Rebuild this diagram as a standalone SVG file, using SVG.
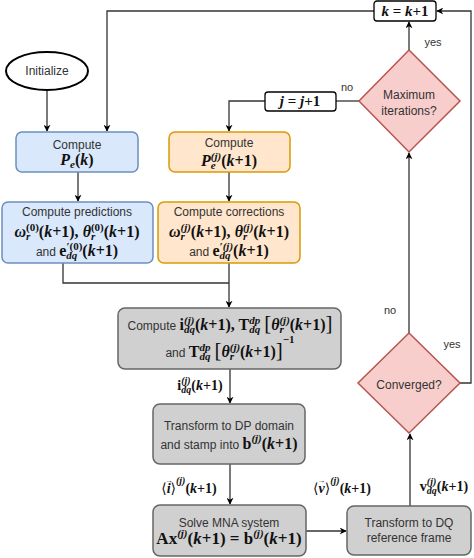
<svg xmlns="http://www.w3.org/2000/svg" width="474" height="558" viewBox="0 0 474 558">
<defs>
<marker id="ah" viewBox="0 0 10 10" refX="9" refY="5" markerWidth="7" markerHeight="7" orient="auto" markerUnits="userSpaceOnUse">
<path d="M0,0 L10,5 L0,10 L3,5 Z" fill="#000"/>
</marker>
<style>
.sans{font-family:"Liberation Sans",Arial,Helvetica,sans-serif;font-size:12px;font-weight:normal;font-style:normal;fill:#333}
.lbl{font-family:"Liberation Sans",Arial,Helvetica,sans-serif;font-size:11px;fill:#333}
.math{font-family:"Liberation Serif","Times New Roman","DejaVu Serif",serif;font-size:16px;font-weight:bold;fill:#111}
.it{font-style:italic}
.sc{font-size:11px}
.br{font-size:21px;font-weight:normal}
.blue{fill:#dae8fc;stroke:#6c8ebf;stroke-width:1.5}
.orange{fill:#ffe6cc;stroke:#d79b00;stroke-width:1.5}
.gray{fill:#d0d0d0;stroke:#666;stroke-width:1.5}
.red{fill:#f8cecc;stroke:#b85450;stroke-width:1.5}
.white{fill:#fff;stroke:#000;stroke-width:1.3}
.edge{fill:none;stroke:#333;stroke-width:1.3}
.arr{marker-end:url(#ah)}
</style>
</defs>

<g id="connectors">
<path class="edge arr" d="M47,90 L47,131"/>
<path class="edge arr" d="M374,11 L107,11 L107,131"/>
<path class="edge arr" d="M460,383 L471,383 L471,11 L437,11"/>
<path class="edge arr" d="M409,50 L409,22"/>
<path class="edge" d="M359,101 L336,101"/>
<path class="edge arr" d="M265,101 L229,101 L229,131"/>
<path class="edge arr" d="M78,172 L78,201"/>
<path class="edge arr" d="M229,172 L229,201"/>
<path class="edge" d="M63,263 L63,283 L229,283"/>
<path class="edge arr" d="M229,263 L229,307"/>
<path class="edge arr" d="M230,369 L230,403"/>
<path class="edge arr" d="M230,464 L230,504"/>
<path class="edge arr" d="M306,531 L346,531"/>
<path class="edge arr" d="M410,506 L410,434"/>
<path class="edge arr" d="M409,333 L409,153"/>
<text class="lbl" x="433" y="46" text-anchor="middle">yes</text>
<text class="lbl" x="347" y="91" text-anchor="middle">no</text>
<text class="lbl" x="452" y="348" text-anchor="middle">yes</text>
<text class="lbl" x="390" y="314" text-anchor="middle">no</text>
<text class="math" x="200" y="390" text-anchor="middle" style="font-size:14px">i<tspan class="sc it" style="font-size:10px" dy="-6">(j)</tspan><tspan class="sc it" style="font-size:10px" dx="-9.4" dy="9">dq</tspan><tspan dy="-3">(<tspan class="it">k</tspan>+1)</tspan></text>
<text class="math" x="189" y="493" text-anchor="middle" style="font-size:14px"><tspan style="font-weight:normal">⟨</tspan><tspan class="it">i</tspan><tspan style="font-size:8px" dx="-5.9" dy="-10">→</tspan><tspan style="font-weight:normal" dx="-2.2" dy="10">⟩</tspan><tspan class="it" style="font-size:10px" dy="-9">(j)</tspan><tspan dy="9">(<tspan class="it">k</tspan>+1)</tspan></text>
<text class="math" x="342" y="493" text-anchor="middle" style="font-size:14px"><tspan style="font-weight:normal">⟨</tspan><tspan class="it">v</tspan><tspan style="font-size:8px" dx="-7.5" dy="-10">→</tspan><tspan style="font-weight:normal" dx="-0.5" dy="10">⟩</tspan><tspan class="it" style="font-size:10px" dy="-9">(j)</tspan><tspan dy="9">(<tspan class="it">k</tspan>+1)</tspan></text>
<text class="math" x="444" y="491" text-anchor="middle" style="font-size:14px">v<tspan class="sc it" style="font-size:10px" dy="-6">(j)</tspan><tspan class="sc it" style="font-size:10px" dx="-9.4" dy="9">dq</tspan><tspan dy="-3">(<tspan class="it">k</tspan>+1)</tspan></text>
</g>

<g id="initialize">
<ellipse class="white" cx="47" cy="71" rx="41" ry="19" style="stroke-width:2"/>
<text class="sans" x="47" y="75" text-anchor="middle">Initialize</text>
</g>

<g id="k-increment">
<rect class="white" x="374" y="1" width="62" height="20" rx="3"/>
<text class="math it" x="405" y="16" text-anchor="middle" style="font-size:15px">k <tspan style="font-style:normal">=</tspan> k<tspan style="font-style:normal">+1</tspan></text>
</g>

<g id="j-increment">
<rect class="white" x="265" y="92" width="71" height="19" rx="3"/>
<text class="math it" x="300" y="106" text-anchor="middle" style="font-size:15px">j <tspan style="font-style:normal">=</tspan> j<tspan style="font-style:normal">+1</tspan></text>
</g>

<g id="max-iterations">
<polygon class="red" points="409,50 460,101 409,152 359,101"/>
<text class="sans" x="409" y="99" text-anchor="middle">Maximum</text>
<text class="sans" x="409" y="115" text-anchor="middle">iterations?</text>
</g>

<g id="compute-pe-k">
<rect class="blue" x="16" y="132" width="122" height="40" rx="6"/>
<text class="sans" x="77" y="149" text-anchor="middle">Compute</text>
<text class="math" x="77" y="165" text-anchor="middle"><tspan class="it">P</tspan><tspan class="sc it" dy="3">e</tspan><tspan dy="-3">(<tspan class="it">k</tspan>)</tspan></text>
</g>

<g id="compute-pe-j">
<rect class="orange" x="169" y="132" width="121" height="40" rx="6"/>
<text class="sans" x="229" y="147" text-anchor="middle">Compute</text>
<text class="math" x="229" y="166" text-anchor="middle"><tspan class="it">P</tspan><tspan class="sc it" dy="-6">(j)</tspan><tspan class="sc it" dx="-10.4" dy="9">e</tspan><tspan dx="5.5" dy="-3">(<tspan class="it">k</tspan>+1)</tspan></text>
</g>

<g id="compute-predictions">
<rect class="blue" x="2" y="202" width="151" height="61" rx="6"/>
<text class="sans" x="77" y="216" text-anchor="middle">Compute predictions</text>
<text class="math" x="77" y="237" text-anchor="middle"><tspan class="it">ω</tspan><tspan class="sc" dy="-6">(0)</tspan><tspan class="sc it" dx="-12.8" dy="9">r</tspan><tspan dx="8.5" dy="-3">(<tspan class="it">k</tspan>+1), </tspan><tspan class="it">θ</tspan><tspan class="sc" dy="-6">(0)</tspan><tspan class="sc it" dx="-12.8" dy="9">r</tspan><tspan dx="8.5" dy="-3">(<tspan class="it">k</tspan>+1)</tspan></text>
<text class="math" x="77" y="256" text-anchor="middle"><tspan class="sans">and </tspan>e<tspan class="sc" dy="-6">′(0)</tspan><tspan class="sc it" dx="-16" dy="9">dq</tspan><tspan dx="5" dy="-3">(<tspan class="it">k</tspan>+1)</tspan></text>
</g>

<g id="compute-corrections">
<rect class="orange" x="158" y="202" width="142" height="61" rx="6"/>
<text class="sans" x="229" y="216" text-anchor="middle">Compute corrections</text>
<text class="math" x="229" y="237" text-anchor="middle"><tspan class="it">ω</tspan><tspan class="sc it" dy="-6">(j)</tspan><tspan class="sc it" dx="-10.4" dy="9">r</tspan><tspan dx="6" dy="-3">(<tspan class="it">k</tspan>+1), </tspan><tspan class="it">θ</tspan><tspan class="sc it" dy="-6">(j)</tspan><tspan class="sc it" dx="-10.4" dy="9">r</tspan><tspan dx="6" dy="-3">(<tspan class="it">k</tspan>+1)</tspan></text>
<text class="math" x="229" y="256" text-anchor="middle"><tspan class="sans">and </tspan>e<tspan class="sc it" dy="-6">′(j)</tspan><tspan class="sc it" dx="-13.7" dy="9">dq</tspan><tspan dx="2.7" dy="-3">(<tspan class="it">k</tspan>+1)</tspan></text>
</g>

<g id="compute-transforms">
<rect class="gray" x="118" y="308" width="223" height="61" rx="7"/>
<text class="math" x="230" y="330" text-anchor="middle"><tspan class="sans">Compute </tspan>i<tspan class="sc it" dy="-6">(j)</tspan><tspan class="sc it" dx="-10.4" dy="9">dq</tspan><tspan dy="-3">(<tspan class="it">k</tspan>+1), T</tspan><tspan class="sc it" dy="-6">dp</tspan><tspan class="sc it" dx="-11" dy="9">dq</tspan><tspan dx="4" dy="-3" class="br">[</tspan><tspan class="it">θ</tspan><tspan class="sc it" dy="-6">(j)</tspan><tspan class="sc it" dx="-10.4" dy="9">r</tspan><tspan dx="6" dy="-3">(<tspan class="it">k</tspan>+1)</tspan><tspan class="br">]</tspan></text>
<text class="math" x="230" y="357" text-anchor="middle"><tspan class="sans">and </tspan>T<tspan class="sc it" dy="-6">dp</tspan><tspan class="sc it" dx="-11" dy="9">dq</tspan><tspan dx="4" dy="-3" class="br">[</tspan><tspan class="it">θ</tspan><tspan class="sc it" dy="-6">(j)</tspan><tspan class="sc it" dx="-10.4" dy="9">r</tspan><tspan dx="6" dy="-3">(<tspan class="it">k</tspan>+1)</tspan><tspan class="br">]</tspan><tspan class="sc" dy="-14">−1</tspan></text>
</g>

<g id="transform-dp">
<rect class="gray" x="153" y="404" width="152" height="60" rx="7"/>
<text class="sans" x="229" y="430" text-anchor="middle">Transform to DP domain</text>
<text class="math" x="229" y="449" text-anchor="middle"><tspan class="sans">and stamp into </tspan>b<tspan class="sc it" dy="-7">(j)</tspan><tspan dy="7">(<tspan class="it">k</tspan>+1)</tspan></text>
</g>

<g id="solve-mna">
<rect class="gray" x="153" y="505" width="153" height="51" rx="7"/>
<text class="sans" x="229" y="527" text-anchor="middle">Solve MNA system</text>
<text class="math" x="229" y="544" text-anchor="middle" style="font-size:17px">Ax<tspan class="sc it" dy="-7">(j)</tspan><tspan dy="7">(<tspan class="it">k</tspan>+1) = b</tspan><tspan class="sc it" dy="-7">(j)</tspan><tspan dy="7">(<tspan class="it">k</tspan>+1)</tspan></text>
</g>

<g id="transform-dq">
<rect class="gray" x="347" y="506" width="124" height="49" rx="7"/>
<text class="sans" x="409" y="527" text-anchor="middle">Transform to DQ</text>
<text class="sans" x="409" y="542" text-anchor="middle">reference frame</text>
</g>

<g id="converged">
<polygon class="red" points="409,333 460,383 409,433 358,383"/>
<text class="sans" x="409" y="389" text-anchor="middle">Converged?</text>
</g>
</svg>
